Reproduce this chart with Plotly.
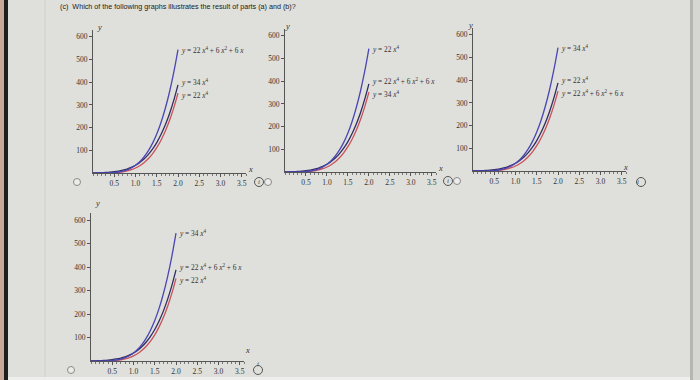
import plotly.graph_objects as go

W, H = 700, 380

# ---- data ----
x_vals = [0.0, 0.1, 0.2, 0.3, 0.4, 0.5, 0.6, 0.7, 0.8, 0.9, 1.0,
          1.1, 1.2, 1.3, 1.4, 1.5, 1.6, 1.7, 1.8, 1.9, 2.0]
top_curve = [0, 0.003, 0.05, 0.28, 0.87, 2.1, 4.4, 8.2, 13.9, 22.3, 34,
             49.8, 70.5, 97.1, 130.6, 172.1, 222.8, 284.0, 356.9, 443.1, 544]
mid_curve = [0, 0.66, 1.48, 2.52, 3.92, 5.9, 8.7, 12.4, 17.6, 24.7, 34,
             46.1, 61.5, 80.8, 104.7, 133.9, 169.2, 211.2, 261.1, 319.8, 388]
low_curve = [0, 0.002, 0.035, 0.18, 0.56, 1.4, 2.9, 5.3, 9.0, 14.4, 22,
             32.2, 45.6, 62.8, 84.5, 111.4, 144.2, 183.7, 230.9, 286.7, 352]

x_ticks = [0.5, 1.0, 1.5, 2.0, 2.5, 3.0, 3.5]
x_tick_labels = ["0.5", "1.0", "1.5", "2.0", "2.5", "3.0", "3.5"]
y_ticks = [100, 200, 300, 400, 500, 600]
y_tick_labels = ["100", "200", "300", "400", "500", "600"]

LBL_A = "<i>y</i> = 22 <i>x</i><sup>4</sup> + 6 <i>x</i><sup>2</sup> + 6 <i>x</i>"
LBL_B = "<i>y</i> = 34 <i>x</i><sup>4</sup>"
LBL_C = "<i>y</i> = 22 <i>x</i><sup>4</sup>"
# labels per graph: (top, middle, bottom)
graph_labels = [
    (LBL_A, LBL_B, LBL_C),
    (LBL_C, LBL_A, LBL_B),
    (LBL_B, LBL_C, LBL_A),
    (LBL_B, LBL_A, LBL_C),
]

title_text = "(c)  Which of the following graphs illustrates the result of parts (a) and (b)?"

# ---- layout of the four panels in pixels: (x0, x1, y_bottom, y_top) ----
panels = [
    (93, 246, 173, 30),
    (285, 436, 172, 29),
    (473, 626, 171, 28),
    (91, 244, 361, 213),
]
radios = [(77, 182), (268, 182), (457, 181), (71, 370)]
infos = [(259, 182), (448, 181), (641, 182), (258, 370)]

def px(x):
    return x / W

def py(y):
    return 1 - y / H

colors = {"top": "#4a46b4", "mid": "#2f2d63", "low": "#c9525a"}
FONT_SERIF = "Liberation Serif"
TXT = "#333333"

fig = go.Figure()
annotations = []
shapes = []

for i, (x0, x1, yb, yt) in enumerate(panels):
    n = "" if i == 0 else str(i + 1)
    xa, ya = "x" + n, "y" + n
    for key, vals in (("low", low_curve), ("mid", mid_curve), ("top", top_curve)):
        fig.add_trace(go.Scatter(x=x_vals, y=vals, mode="lines",
                                 line=dict(color=colors[key], width=1.3, shape="spline"),
                                 xaxis=xa, yaxis=ya, showlegend=False, hoverinfo="skip"))
    axis_common = dict(showgrid=False, zeroline=False, showline=True,
                       linecolor="#555", linewidth=1,
                       tickfont=dict(family=FONT_SERIF, size=7.5, color=TXT),
                       ticks="outside", ticklen=3, tickcolor="#555", fixedrange=True)
    fig.update_layout(**{
        "xaxis" + n: dict(domain=[px(x0), px(x1)], range=[0, 3.6], anchor=ya,
                          tickvals=x_ticks, ticktext=x_tick_labels,
                          minor=dict(dtick=0.1, ticks="outside", ticklen=1.5, tickcolor="#777"),
                          **axis_common),
        "yaxis" + n: dict(domain=[py(yb), py(yt)], range=[0, 630], anchor=xa,
                          tickvals=y_ticks, ticktext=y_tick_labels, **axis_common),
    })
    # axis names
    annotations.append(dict(x=px(x0 + 2), y=py(yt - 10), xref="paper", yref="paper",
                            text="<i>y</i>", showarrow=False,
                            font=dict(family=FONT_SERIF, size=8.5, color=TXT)))
    annotations.append(dict(x=px(x1 + 4), y=py(yb - 4), xref="paper", yref="paper",
                            text="<i>x</i>", showarrow=False,
                            font=dict(family=FONT_SERIF, size=8.5, color=TXT)))
    # curve labels
    t, m, b = graph_labels[i]
    for text, yv, ys in ((t, top_curve[-1], 0), (m, mid_curve[-1], 3), (b, low_curve[-1], -2)):
        annotations.append(dict(x=2.02, y=yv, xref=xa, yref=ya, text=text,
                                showarrow=False, xanchor="left", yanchor="middle",
                                yshift=ys,
                                font=dict(family=FONT_SERIF, size=7.3, color=TXT)))
    # radio button
    rx, ry = radios[i]
    shapes.append(dict(type="circle", xref="paper", yref="paper",
                       x0=px(rx - 3.5), x1=px(rx + 3.5), y0=py(ry + 3.5), y1=py(ry - 3.5),
                       line=dict(color="#8a8a8a", width=1), fillcolor="#ececea"))
    # info icon
    ix, iy = infos[i]
    shapes.append(dict(type="circle", xref="paper", yref="paper",
                       x0=px(ix - 4.5), x1=px(ix + 4.5), y0=py(iy + 4.5), y1=py(iy - 4.5),
                       line=dict(color="#555", width=1), fillcolor="rgba(0,0,0,0)"))
    annotations.append(dict(x=px(ix), y=py(iy), xref="paper", yref="paper",
                            text="<i>i</i>", showarrow=False,
                            font=dict(family=FONT_SERIF, size=7, color="#444")))

# title
annotations.append(dict(x=px(58), y=py(6), xref="paper", yref="paper",
                        text=title_text, showarrow=False, xanchor="left", yanchor="middle",
                        font=dict(family="Liberation Sans", size=7.2, color="#1a1a1a")))

# photo edges
shapes += [
    dict(type="rect", xref="paper", yref="paper", x0=0, x1=px(4), y0=0, y1=1,
         fillcolor="#c9a898", line=dict(width=0), layer="above"),
    dict(type="rect", xref="paper", yref="paper", x0=px(4), x1=px(8), y0=0, y1=1,
         fillcolor="#1e1e1e", line=dict(width=0), layer="above"),
    dict(type="rect", xref="paper", yref="paper", x0=px(690), x1=px(693), y0=0, y1=1,
         fillcolor="#b5b5b2", line=dict(width=0), layer="above"),
    dict(type="rect", xref="paper", yref="paper", x0=px(693), x1=1, y0=0, y1=1,
         fillcolor="#d6d6d3", line=dict(width=0), layer="above"),
    dict(type="rect", xref="paper", yref="paper", x0=px(8), x1=1, y0=0, y1=py(377),
         fillcolor="#eeeeec", line=dict(width=0), layer="below"),
    dict(type="line", xref="paper", yref="paper", x0=px(45), x1=px(45), y0=py(377), y1=1,
         line=dict(color="#cfcfcb", width=1), layer="below"),
]

fig.update_layout(
    width=W, height=H,
    margin=dict(l=0, r=0, t=0, b=0),
    paper_bgcolor="#dfdfdb", plot_bgcolor="rgba(0,0,0,0)",
    annotations=annotations, shapes=shapes,
)

fig.write_html("out.html", config={"displayModeBar": False},
               post_script="document.body.style.margin='0';document.body.style.overflow='hidden';")
